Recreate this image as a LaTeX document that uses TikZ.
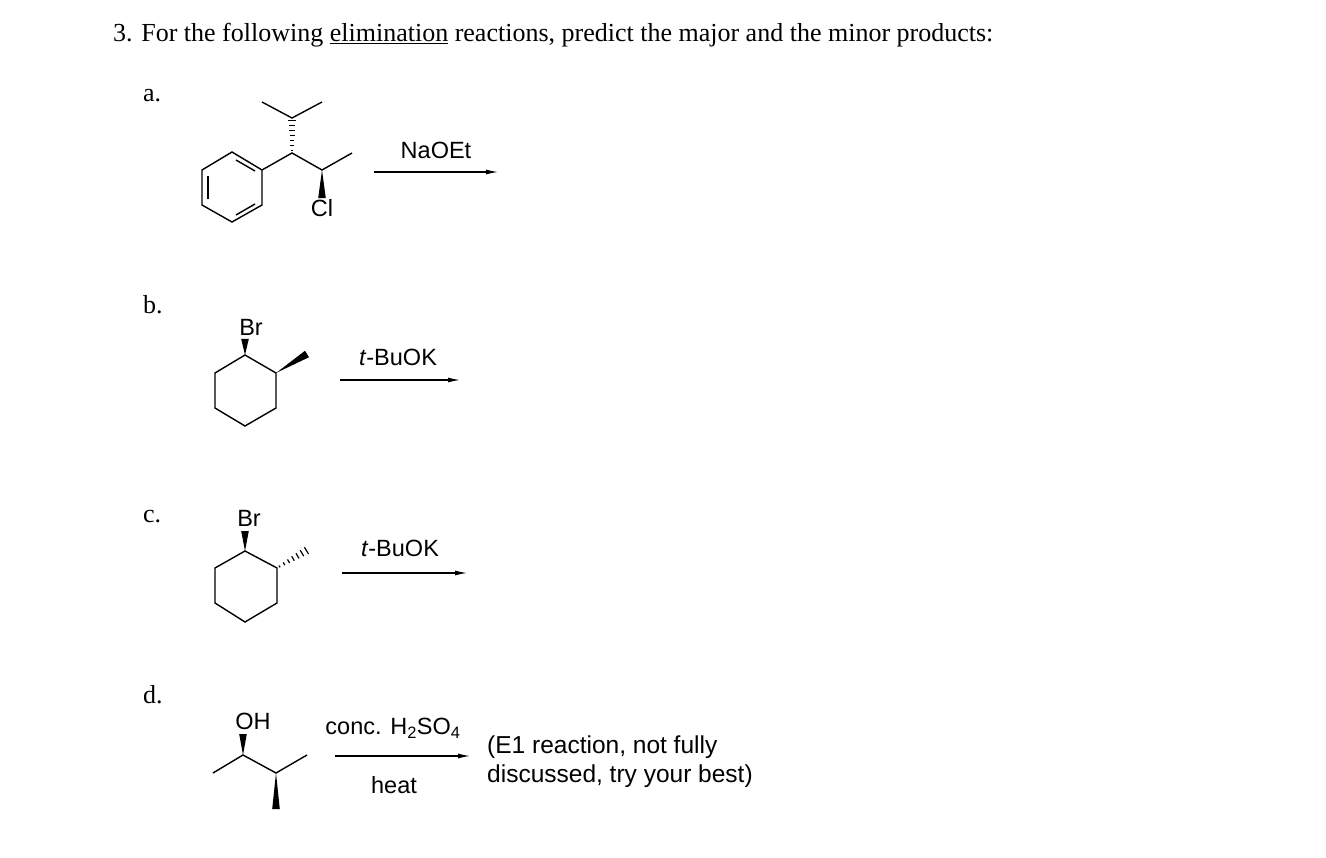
\documentclass[tikz,border=0pt]{standalone}
\usepackage{fontspec}
\setmainfont{Liberation Serif}
\newfontfamily\chemsf{Liberation Sans}
\usetikzlibrary{calc,arrows.meta}
\tikzset{bond/.style={line width=1.4pt},
  lab/.style={font=\chemsf\fontsize{23.5}{26}\selectfont, inner sep=1pt},
  ser/.style={font=\fontsize{26}{30}\selectfont, anchor=west, inner sep=0pt},
  rxn/.style={-{Latex[length=12pt,width=5pt]}, line width=1.1pt}}
\newcommand{\mywedge}[2]{\fill (#1) -- ($(#2)!3.8pt!90:(#1)$) -- ($(#2)!3.8pt!-90:(#1)$) -- cycle;}
\newcommand{\myhash}[2]{\foreach \t in {0.08,0.22,0.36,0.5,0.64,0.78,0.92}{
  \pgfmathsetmacro{\hw}{0.8+3.4*\t}
  \coordinate (hp) at ($(#1)!\t!(#2)$);
  \draw[line width=1.2pt] ($(hp)!\hw pt!90:(#2)$) -- ($(hp)!\hw pt!-90:(#2)$);}}
\begin{document}
\begin{tikzpicture}[x=1pt,y=-1pt]
\useasboundingbox (0,0) rectangle (1326,858);
\node[ser] (title) at (113,35) {3. For the following \underline{elimination} reactions, predict the major and the minor products:};
\node[ser] (la) at (143,96) {a.};
\node[ser] (lb) at (143,305) {b.};
\node[ser] (lc) at (143,517) {c.};
\node[ser] (ld) at (143,695) {d.};
% part a
\coordinate (b1) at (232,152); \coordinate (b2) at (262,170); \coordinate (b3) at (262,205);
\coordinate (b4) at (232,222); \coordinate (b5) at (202,205); \coordinate (b6) at (202,170);
\draw[bond] (b1)--(b2)--(b3)--(b4)--(b5)--(b6)--cycle;
\draw[bond] (236,160) -- (255,171);
\draw[bond] (255,204) -- (236,215);
\draw[bond] (208,176) -- (208,199);
\coordinate (c1) at (292,153); \coordinate (c2) at (292,118);
\coordinate (m1) at (262,102); \coordinate (m2) at (322,102);
\coordinate (c3) at (322,170); \coordinate (m3) at (352,153);
\draw[bond] (b2)--(c1)--(c3)--(m3);
\draw[bond] (m1)--(c2)--(m2);
\myhash{c1}{c2}
\node[lab] (cl) at (322,208) {Cl};
\mywedge{c3}{cl.north}
\node[lab] (ra) at (436,150) {NaOEt};
\coordinate (a1) at (374,172); \coordinate (a2) at (498,172);
\draw[rxn] (a1) -- (a2);
% part b
\coordinate (r1) at (245,355); \coordinate (r2) at (276,373); \coordinate (r3) at (276,408);
\coordinate (r4) at (245,426); \coordinate (r5) at (215,408); \coordinate (r6) at (215,373);
\draw[bond] (r1)--(r2)--(r3)--(r4)--(r5)--(r6)--cycle;
\node[lab] (brb) at (251,327) {Br};
\mywedge{r1}{245,339}
\coordinate (mb) at (307,354);
\mywedge{r2}{mb}
\node[lab] (rb) at (398,357) {\textit{t}-BuOK};
\coordinate (bb1) at (340,380); \coordinate (bb2) at (460,380);
\draw[rxn] (bb1) -- (bb2);
% part c
\coordinate (s1) at (245,551); \coordinate (s2) at (277,568); \coordinate (s3) at (277,603);
\coordinate (s4) at (245,622); \coordinate (s5) at (215,603); \coordinate (s6) at (215,568);
\draw[bond] (s1)--(s2)--(s3)--(s4)--(s5)--(s6)--cycle;
\node[lab] (brc) at (249,518) {Br};
\mywedge{s1}{245,531}
\coordinate (mc) at (309,549);
\myhash{s2}{mc}
\node[lab] (rc) at (400,548) {\textit{t}-BuOK};
\coordinate (cc1) at (342,573); \coordinate (cc2) at (467,573);
\draw[rxn] (cc1) -- (cc2);
% part d
\coordinate (d2) at (243,755); \coordinate (d1) at (213,773);
\coordinate (d3) at (276,773); \coordinate (d4) at (307,755);
\coordinate (d5) at (276,809);
\draw[bond] (d1)--(d2)--(d3)--(d4);
\node[lab] (oh) at (253,721) {OH};
\mywedge{d2}{243,734}
\mywedge{d3}{d5}
\node[lab] (rd1) at (393,728) {conc. H\textsubscript{2}SO\textsubscript{4}};
\node[lab] (rd2) at (394,785) {heat};
\coordinate (dd1) at (335,756); \coordinate (dd2) at (470,756);
\draw[rxn] (dd1) -- (dd2);
\node[lab, anchor=west, align=left, font=\chemsf\fontsize{24.5}{29}\selectfont] (note) at (486,762) {(E1 reaction, not fully\\discussed, try your best)};
\end{tikzpicture}
\end{document}
